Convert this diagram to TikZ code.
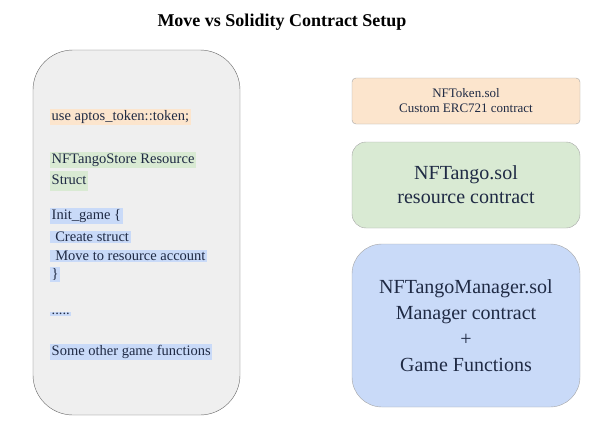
\documentclass[tikz,border=0pt]{standalone}
\usepackage{fontspec}
\setmainfont{Liberation Serif}
\usetikzlibrary{positioning}
\definecolor{boxgrey}{HTML}{EFEFEF}
\definecolor{hlorange}{HTML}{FCE5CD}
\definecolor{hlgreen}{HTML}{D9EAD3}
\definecolor{hlblue}{HTML}{C9DAF8}
\definecolor{inkblue}{HTML}{1F2A44}
\tikzset{
    code/.style = {
        anchor=west,
        inner sep=1.5pt,
        text=inkblue,
        font=\fontsize{14.5}{17}\selectfont
    },
    contract/.style = {
        rectangle,
        draw=gray!70,
        align=center,
        minimum width=228pt,
        text=inkblue
    }
}
\begin{document}
\begin{tikzpicture}[x=1pt, y=-1pt]
\useasboundingbox (0,0) rectangle (614,431);

% Title
\node [font=\bfseries\fontsize{18}{21}\selectfont] (title) at (282,22) {Move vs Solidity Contract Setup};

% Move side
\draw [draw=gray!80!black, fill=boxgrey, rounded corners=40pt] (33,50) rectangle (240,415);
\node [code, fill=hlorange] (use) at (50,117) {use aptos\_token::token;};
\node [code, fill=hlgreen] (store1) at (50,160) {NFTangoStore Resource};
\node [code, fill=hlgreen] (store2) at (50,181) {Struct\strut};
\node [code, fill=hlblue] (init1) at (50,216) {Init\_game \{};
\node [code, fill=hlblue] (init2) at (50,237) {\ Create struct};
\node [code, fill=hlblue] (init3) at (50,256) {\ Move to resource account};
\node [code, fill=hlblue] (init4) at (50,274) {\}};
\node [code, fill=hlblue] (dots) at (50,314) {.....};
\node [code, fill=hlblue] (other) at (50,352) {Some other game functions};

% Solidity side
\node [contract, fill=hlorange, rounded corners=4pt, minimum height=46pt,
       font=\fontsize{13}{15}\selectfont] (token) at (466,101) {NFToken.sol\\Custom ERC721 contract};
\node [contract, fill=hlgreen, rounded corners=14pt, minimum height=86pt,
       font=\fontsize{20}{24}\selectfont] (tango) at (466,185) {NFTango.sol\\resource contract};
\node [contract, fill=hlblue, rounded corners=30pt, minimum height=163pt,
       font=\fontsize{20}{26}\selectfont] (manager) at (466,325.5) {NFTangoManager.sol\\Manager contract\\+\\Game Functions};

\end{tikzpicture}
\end{document}
